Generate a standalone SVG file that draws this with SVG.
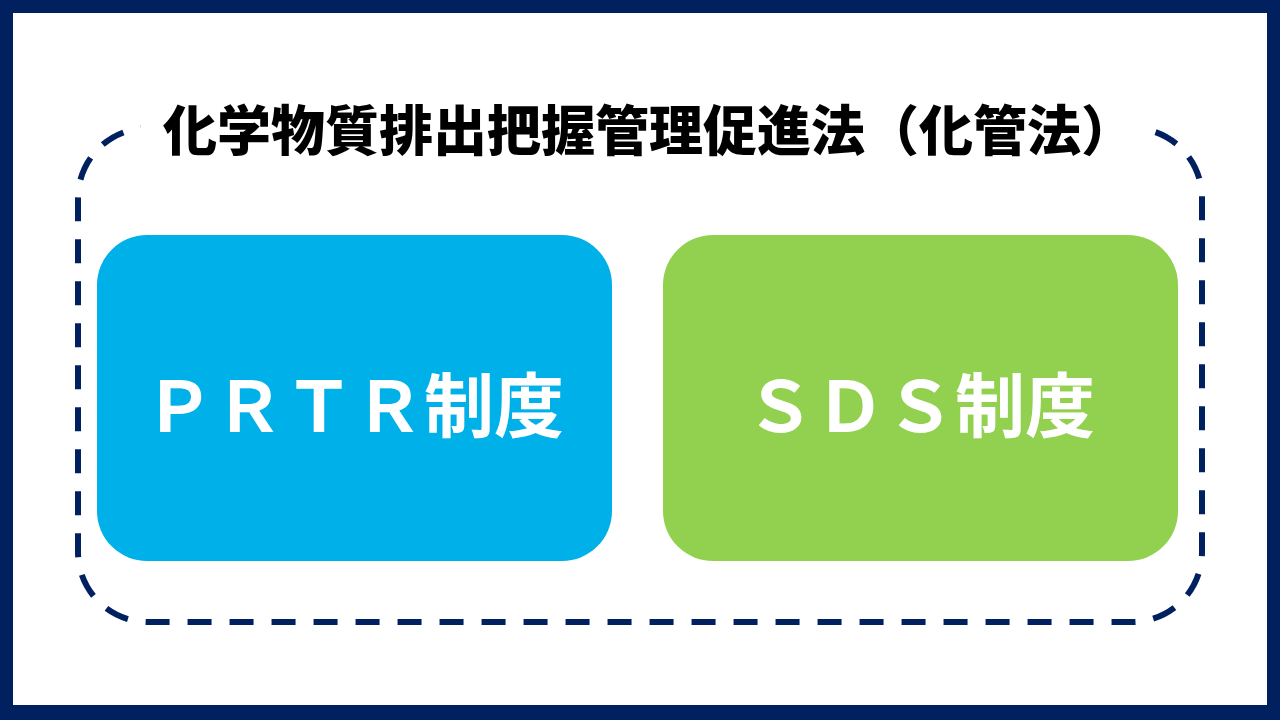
<svg xmlns="http://www.w3.org/2000/svg" width="1280" height="720" viewBox="0 0 1280 720">
  <style>
    .title { font-family: "Noto Sans CJK JP", "Noto Sans", sans-serif; font-weight: 900; font-size: 54px; fill: #000000; }
    .label { font-family: "Noto Sans CJK JP", "Noto Sans", sans-serif; font-weight: 700; font-size: 70px; fill: #FFFFFF; }
    .frame { fill: none; stroke: #002060; stroke-width: 6; stroke-dasharray: 24 18; }
  </style>
  <rect x="0" y="0" width="1280" height="720" fill="#002060"/>
  <rect x="13" y="13" width="1254" height="692" fill="#FFFFFF"/>
  <g id="law-frame">
    <rect class="frame" x="78" y="128" width="1124" height="494" rx="70" ry="70"/>
    <rect x="141" y="108" width="998" height="50" fill="#FFFFFF"/>
    <text class="title" x="649" y="151" text-anchor="middle">化学物質排出把握管理促進法（化管法）</text>
  </g>
  <g id="prtr">
    <rect x="97" y="235" width="515" height="326" rx="50" ry="50" fill="#00B0E8"/>
    <text class="label" x="354" y="432" text-anchor="middle">ＰＲＴＲ制度</text>
  </g>
  <g id="sds">
    <rect x="663" y="235" width="515" height="326" rx="50" ry="50" fill="#92D050"/>
    <text class="label" x="920" y="432" text-anchor="middle">ＳＤＳ制度</text>
  </g>
  <g id="connectors"></g>
</svg>
